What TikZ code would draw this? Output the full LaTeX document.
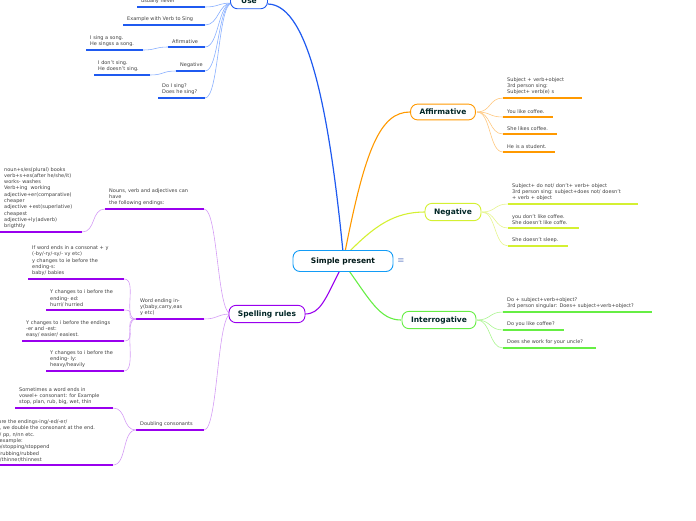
\documentclass[tikz,border=0pt]{standalone}
\usepackage{fontspec}
\setmainfont{DejaVu Sans}
\usetikzlibrary{calc}
\begin{document}
\begin{tikzpicture}[x=1pt,y=-1pt,
  box/.style={draw,rounded corners=7pt,line width=0.9pt,fill=white,inner xsep=9pt,inner ysep=5pt,font=\fontsize{7.5}{8}\selectfont\bfseries,text=black!70!teal},
  txt/.style={font=\fontsize{5}{6.3}\selectfont,text=black!75,align=left,inner sep=0pt},
  conn/.style={line width=0.6pt},
  uline/.style={line width=1.3pt}]
\useasboundingbox (0,0) rectangle (696,520);
\definecolor{cb}{HTML}{1F5AF0}\definecolor{cbl}{HTML}{8AB0FF}
\definecolor{co}{HTML}{FF9900}\definecolor{col}{HTML}{FFC880}
\definecolor{cy}{HTML}{D4F032}\definecolor{cyl}{HTML}{E6F590}
\definecolor{cg}{HTML}{66EE44}\definecolor{cgl}{HTML}{AAF590}
\definecolor{cp}{HTML}{9900EE}\definecolor{cpl}{HTML}{D49CF5}
\newcommand\rleaf[8]{%
  \coordinate (#8a) at (#2,#4); \coordinate (#8b) at (#3,#4);
  \draw[#5,conn] (#1) .. controls +(14,0) and +(-14,0) .. (#8a);
  \draw[#6,uline] (#8a) -- (#8b);
  \node[txt,anchor=south west] (#8) at ($(#8a)+(4,-3)$) {#7};}
\newcommand\lleaf[8]{%
  \coordinate (#8a) at (#2,#4); \coordinate (#8b) at (#3,#4);
  \draw[#5,conn] (#1) .. controls +(-14,0) and +(14,0) .. (#8b);
  \draw[#6,uline] (#8a) -- (#8b);
  \node[txt,anchor=south west] (#8) at ($(#8a)+(4,-3)$) {#7};}
% main branch connectors
\draw[cb,line width=1.2pt] (343,252) .. controls (330,120) and (310,5) .. (268,4);
\draw[co,line width=1.1pt] (345,252) .. controls (365,150) and (380,112) .. (410,112);
\draw[cy,line width=1.1pt] (347,254) .. controls (375,225) and (395,212) .. (425,212);
\draw[cg,line width=1.1pt] (347,268) .. controls (370,300) and (380,320) .. (401,320);
\draw[cp,line width=1.1pt] (340,270) .. controls (325,300) and (320,314) .. (305,314);
% use leaves
\coordinate (up) at (232,3);
\lleaf{up}{137}{205}{7}{cbl}{cb}{usually never}{u1}
\lleaf{up}{123}{205}{25}{cbl}{cb}{Example with Verb to Sing}{u2}
\lleaf{up}{168}{205}{47}{cbl}{cb}{Afirmative}{u3}
\lleaf{up}{176}{205}{71}{cbl}{cb}{Negative}{u4}
\lleaf{up}{158}{205}{98}{cbl}{cb}{Do I sing?\\Does he sing?}{u5}
\lleaf{u3a}{86}{143}{50}{cbl}{cb}{I sing a song.\\He singss a song.}{u6}
\lleaf{u4a}{94}{150}{75}{cbl}{cb}{I don't sing.\\He doesn't sing.}{u7}
% affirmative leaves
\coordinate (ap) at (477,112);
\rleaf{ap}{503}{582}{98}{col}{co}{Subject + verb+object\\3rd person sing:\\Subject+ verb(e) s}{a1}
\rleaf{ap}{503}{553}{117}{col}{co}{You like coffee.}{a2}
\rleaf{ap}{503}{557}{134}{col}{co}{She likes coffee.}{a3}
\rleaf{ap}{503}{555}{152}{col}{co}{He is a student.}{a4}
% negative leaves
\coordinate (np) at (482,212);
\rleaf{np}{508}{638}{204}{cyl}{cy}{Subject+ do not/ don't+ verb+ object\\3rd person sing: subject+does not/ doesn't\\+ verb + object}{n1}
\rleaf{np}{508}{579}{228}{cyl}{cy}{you don't like coffee.\\She doesn't like coffe.}{n2}
\rleaf{np}{508}{568}{246}{cyl}{cy}{She doesn't sleep.}{n3}
% interrogative leaves
\coordinate (ip) at (477,320);
\rleaf{ip}{503}{652}{312}{cgl}{cg}{Do + subject+verb+object?\\3rd person singular: Does+ subject+verb+object?}{i1}
\rleaf{ip}{503}{564}{330}{cgl}{cg}{Do you like coffee?}{i2}
\rleaf{ip}{503}{596}{348}{cgl}{cg}{Does she work for your uncle?}{i3}
% spelling leaves
\coordinate (spp) at (231,314);
\lleaf{spp}{105}{204}{209}{cpl}{cp}{Nouns, verb and adjectives can\\have\\the following endings:}{s1}
\lleaf{spp}{136}{204}{319}{cpl}{cp}{Word ending in-\\y(baby,carry,eas\\y etc)}{s2}
\lleaf{spp}{136}{204}{430}{cpl}{cp}{Doubling consonants}{s3}
\lleaf{s1a}{0}{82}{232}{cpl}{cp}{noun+s/es(plural) books\\verb+s+es(after he/she/it)\\works- washes\\Verb+ing\ \ working\\adjective+er(comparative)\\cheaper\\adjective +est(superlative)\\cheapest\\adjective+ly(adverb)\\brigthtly}{s4}
\lleaf{s2a}{28}{124}{279}{cpl}{cp}{If word ends in a consonat + y\\(-by/-ry/-sy/- vy etc)\\y changes to ie before the\\ending-s:\\baby/ babies}{s5}
\lleaf{s2a}{46}{124}{310}{cpl}{cp}{Y changes to i before the\\ending- ed:\\hurri/ hurried}{s6}
\lleaf{s2a}{22}{124}{341}{cpl}{cp}{Y changes to i before the endings\\-er and -est:\\easy/ easier/ easiest.}{s7}
\lleaf{s2a}{46}{124}{371}{cpl}{cp}{Y changes to i before the\\ending- ly:\\heavy/heavily}{s8}
\lleaf{s3a}{15}{113}{408}{cpl}{cp}{Sometimes a word ends in\\vowel+ consonant: for Example\\stop, plan, rub, big, wet, thin}{s9}
\lleaf{s3a}{-14}{113}{465}{cpl}{cp}{Before the endings-ing/-ed/-er/\\-est, we double the consonant at the end.\\\ \ \ \ p/ pp, n/nn etc.\\For example:\\stop/stopping/stoppend\\rub/rubbing/rubbed\\thin/thinner/thinnest}{s10}
% boxes
\node[box,draw=cb!60!cyan,text=black!80!teal,minimum width=100pt,minimum height=21pt] (sp) at (343,261) {Simple present};
\node[font=\fontsize{8}{8}\selectfont,text=cb!70!black] (eq) at (401,261) {$\equiv$};
\node[box,draw=cb,minimum width=37pt] (use) at (249,1) {Use};
\node[box,draw=co] (aff) at (443,112) {Affirmative};
\node[box,draw=cy] (neg) at (453,212) {Negative};
\node[box,draw=cg] (int) at (439,320) {Interrogative};
\node[box,draw=cp] (spl) at (267,314) {Spelling rules};
\end{tikzpicture}
\end{document}
